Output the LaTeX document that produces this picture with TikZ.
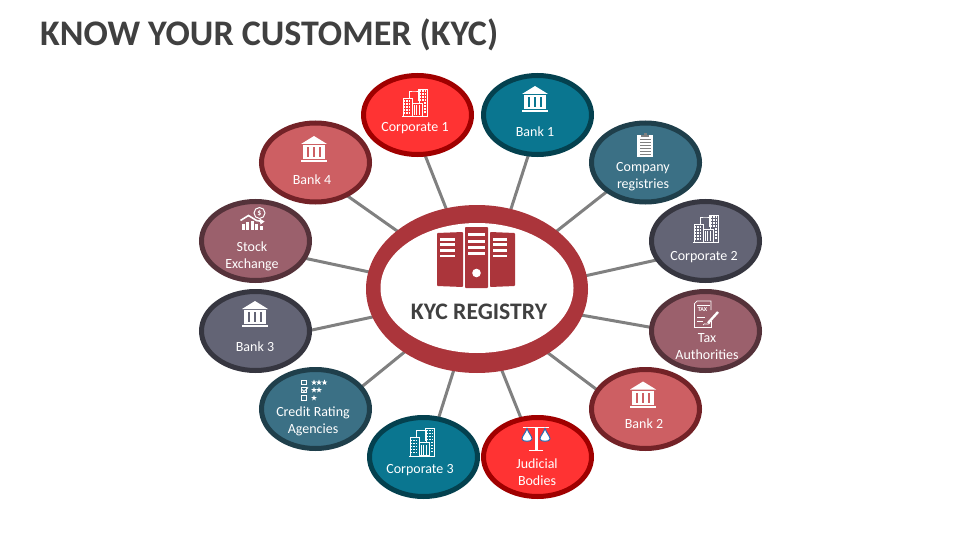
\documentclass[tikz,border=0pt]{standalone}
\usepackage{fontspec}
\setmainfont{Carlito}
\usetikzlibrary{
  shapes.geometric,
  shadows,
  backgrounds
}
\definecolor{kycring}{HTML}{AB353B}
\definecolor{kyctitle}{HTML}{404040}
\definecolor{kyclink}{HTML}{808080}
\definecolor{kycblue}{HTML}{2A6DB5}
\definecolor{redfill}{HTML}{FF3333}
\definecolor{redline}{HTML}{A00000}
\definecolor{tealfill}{HTML}{0A7690}
\definecolor{tealline}{HTML}{04414F}
\definecolor{bluefill}{HTML}{3B7085}
\definecolor{blueline}{HTML}{1F3F4B}
\definecolor{grayfill}{HTML}{636475}
\definecolor{grayline}{HTML}{363640}
\definecolor{plumfill}{HTML}{9B606C}
\definecolor{plumline}{HTML}{55323A}
\definecolor{rosefill}{HTML}{CD5F63}
\definecolor{roseline}{HTML}{732227}
\tikzset{
  sat/.style = {shape=ellipse, draw, line width=5pt, minimum width=108pt,
    minimum height=79pt, inner sep=0pt,
    drop shadow={opacity=.35, shadow xshift=1.5pt, shadow yshift=-1.5pt}},
  satred/.style = {sat, fill=redfill, draw=redline},
  satteal/.style = {sat, fill=tealfill, draw=tealline},
  satblue/.style = {sat, fill=bluefill, draw=blueline},
  satgray/.style = {sat, fill=grayfill, draw=grayline},
  satplum/.style = {sat, fill=plumfill, draw=plumline},
  satrose/.style = {sat, fill=rosefill, draw=roseline},
  lbl/.style = {text=white, align=center, inner sep=0pt,
    font=\fontsize{14}{17}\selectfont},
  link/.style = {draw=kyclink, line width=3pt, shorten <=-1.5pt, shorten >=-1.5pt},
  bankicon/.pic = {
    \fill[white] (-13,-5) -- (0,-13) -- (13,-5) -- cycle;
    \fill[white] (-11,-4) rectangle (11,-2);
    \foreach \c in {-9,-3,3,9}
      \fill[white] (\c-1.7,-2) rectangle (\c+1.7,8);
    \fill[white] (-11,8) rectangle (11,10);
    \fill[white] (-13,11) rectangle (13,13);
  },
  buildingicon/.pic = {
    \draw[white, line width=.7pt] (-13,14.5) -- (13,14.5);
    \draw[white, line width=.7pt] (-12,14) |- (-3,-4) -- (-3,14);
    \draw[white, line width=.7pt] (-6,-4) |- (-1,-11) -| (4,1);
    \draw[white, line width=.7pt] (3,-1) -- (3,-13) -| (12,14);
    \draw[white, line width=.7pt] (-3,1) rectangle (7,14);
    \foreach \c in {-1,1.5,4}
      \draw[white, line width=1pt] (\c,3) -- (\c,13);
    \foreach \c in {-10.5,-8,-5.5}
      \foreach \r in {-1,2,5,8,11}
        \fill[white] (\c-.6,\r-.6) rectangle (\c+.6,\r+.6);
    \foreach \c in {5,8,10.5}
      \foreach \r in {-11,-8,-5,-2}
        \fill[white] (\c-.6,\r-.6) rectangle (\c+.6,\r+.6);
    \foreach \r in {1,4,7,10}
      \fill[white] (8.5,\r-.6) rectangle (10.5,\r+.6);
  },
  clipicon/.pic = {
    \fill[white] (-8,-10) rectangle (8,12);
    \fill[gray] (-4,-10) rectangle (4,-8);
    \fill[gray] (-1.5,-12) rectangle (1.5,-9);
    \foreach \r in {-6,-3,0,3,6,9}
      \draw[gray, line width=.7pt] (-5,\r) -- (6,\r);
  },
  taxicon/.pic = {
    \draw[white, line width=.7pt] (-13,-10) -- (-10,-13) -- (4,-13) -- (4,-4);
    \draw[white, line width=.7pt] (-13,-10) -- (-13,13) -- (4,13) -- (4,7);
    \draw[white, line width=.7pt] (-10,-9) -- (3,-9);
    \node[text=white, inner sep=0pt, font=\fontsize{6}{6}\selectfont\bfseries] (taxmark) at (-4.5,-4) {TAX};
    \draw[white, line width=.7pt] (-10,3) -- (-2,3);
    \draw[white, line width=.7pt] (-10,7) -- (-4,7);
    \draw[white, line width=2.4pt] (1,9) -- (11,-2);
    \draw[white, line width=.7pt] (-4,11) .. controls (-2,8) and (0,12) .. (3,9);
  },
  stockicon/.pic = {
    \draw[white, line width=1pt] (6,-5.5) circle (5.5);
    \node[text=white, inner sep=0pt, font=\fontsize{8}{8}\selectfont\bfseries] (stockmark) at (6,-5.5) {\$};
    \draw[white, line width=1.6pt] (-13,2) -- (-5,-3) -- (3,2) -- (9,3);
    \fill[white] (11,3) -- (6,0) -- (7,6) -- cycle;
    \foreach \c/\t in {-12/5,-7.5/3,-3/2,1.5/5,6/7}
      \fill[white] (\c,\t) rectangle (\c+3.2,11);
  },
  ratingicon/.pic = {
    \foreach \r in {-8,-0.5,7.5}
      \draw[white, line width=.8pt] (-12.5,\r-2.3) rectangle (-7.5,\r+2.3);
    \draw[white, line width=.8pt] (-12,-1) -- (-10,1) -- (-6,-3);
    \foreach \c/\r in {0/-8,5/-8,10.5/-8,0/-0.5,5/-0.5,0/7.5}
      \fill[white, shift={(\c,\r)}] (-90:3)
        \foreach \a in {1,...,9} { -- ({-90+36*\a}:{mod(\a,2)==0 ? 3 : 1.2}) } -- cycle;
  },
  scaleicon/.pic = {
    \draw[white, line width=.8pt] (-13,-11.5) -- (13,-11.5);
    \fill[white] (-1.5,-12) rectangle (1.5,11);
    \fill[white] (-7,10.5) rectangle (7,12);
    \foreach \c in {-9,9} {
      \fill[white, draw=kycblue, line width=1pt] (\c,-10.5)
        .. controls (\c-2,-5) and (\c-5,-3) .. (\c-5,0)
        .. controls (\c-5,3) and (\c+5,3) .. (\c+5,0)
        .. controls (\c+5,-3) and (\c+2,-5) .. (\c,-10.5) -- cycle;
    }
  },
  servericon/.pic = {
    \fill[kycring, rounded corners=.8pt] (-40,-56) -- (-14,-57) -- (-14,-2) -- (-40,-3) -- cycle;
    \fill[kycring, rounded corners=.8pt] (-12,-62) rectangle (11,-1);
    \fill[kycring, rounded corners=.8pt] (13,-57) -- (38,-56) -- (38,-3) -- (13,-2) -- cycle;
    \foreach \r in {-51,-46,-40,-34.5} {
      \fill[white] (-37,\r) rectangle (-22.5,\r+2.6);
      \fill[white] (15.5,\r) rectangle (30,\r+2.6);
    }
    \foreach \r in {-56,-49.5,-43,-37}
      \fill[white] (-9,\r) rectangle (8,\r+3.4);
    \fill[white] (-.5,-16) circle (4.3);
  }
}
\begin{document}
\begin{tikzpicture}[x=1pt, y=-1pt]
  \useasboundingbox (0,0) rectangle (960,540);
  \node[text=kyctitle, anchor=west, inner sep=0pt,
    font=\fontsize{36}{42}\selectfont\bfseries] (title) at (40,35) {KNOW YOUR CUSTOMER (KYC)};

  \node[shape=ellipse, fill=kycring, minimum width=222pt, minimum height=168pt,
    inner sep=0pt, outer sep=0pt] (hub) at (477,289) {};
  \node[shape=ellipse, fill=white, minimum width=193pt, minimum height=130pt,
    inner sep=0pt, outer sep=0pt] (hubin) at (477,288) {};
  \pic at (477,289) {servericon};
  \node[text=kyctitle, inner sep=0pt, font=\fontsize{23.7}{28}\selectfont\bfseries]
    (hubtext) at (479,312) {KYC REGISTRY};

  \node[satred] (corpA) at (417.5,115) {};
  \node[satteal] (bankA) at (537.5,115) {};
  \node[satblue] (registries) at (645.5,162.5) {};
  \node[satgray] (corpB) at (705.5,241) {};
  \node[satplum] (tax) at (705.5,331) {};
  \node[satrose] (bankB) at (645.5,409) {};
  \node[satred] (judicial) at (537.5,457) {};
  \node[satteal] (corpC) at (423.5,457) {};
  \node[satblue] (rating) at (315.5,409) {};
  \node[satgray] (bankC) at (255.5,331) {};
  \node[satplum] (stock) at (255.5,241) {};
  \node[satrose] (bankD) at (315.5,162.5) {};

  \begin{scope}[on background layer]
    \foreach \sat/\hubangle/\satangle in {corpA/111.6/281, bankA/67.8/257, registries/36.4/217,
      corpB/7.8/201, tax/346.7/176, bankB/318/158, judicial/287.6/113.5, corpC/254.9/69.4,
      rating/221.5/26.3, bankC/195.4/1, stock/171/341, bankD/144.7/314}
      \draw[link] (hub.\hubangle) -- (\sat.\satangle);
  \end{scope}

  \pic at (415,102) {buildingicon};
  \pic at (535,99) {bankicon};
  \pic at (645,145) {clipicon};
  \pic at (706,228) {buildingicon};
  \pic at (707,314) {taxicon};
  \pic at (643,394.5) {bankicon};
  \pic at (536,439) {scaleicon};
  \pic at (422,441.5) {buildingicon};
  \pic at (314,390.5) {ratingicon};
  \pic at (255,314) {bankicon};
  \pic at (253.5,218.5) {stockicon};
  \pic at (314,149) {bankicon};

  \node[lbl] (corpAtext) at (415,128) {Corporate 1};
  \node[lbl] (bankAtext) at (535,132) {Bank 1};
  \node[lbl] (registriestext) at (643,177) {Company\\registries};
  \node[lbl] (corpBtext) at (704,257) {Corporate 2};
  \node[lbl] (taxtext) at (707,346.5) {Tax\\Authorities};
  \node[lbl] (bankBtext) at (644,424) {Bank 2};
  \node[lbl] (judicialtext) at (537,472.5) {Judicial\\Bodies};
  \node[lbl] (corpCtext) at (420,470.5) {Corporate 3};
  \node[lbl] (ratingtext) at (313,421.5) {Credit Rating\\Agencies};
  \node[lbl] (bankCtext) at (255,347) {Bank 3};
  \node[lbl] (stocktext) at (252,256) {Stock\\Exchange};
  \node[lbl] (bankDtext) at (312,180) {Bank 4};
\end{tikzpicture}
\end{document}
